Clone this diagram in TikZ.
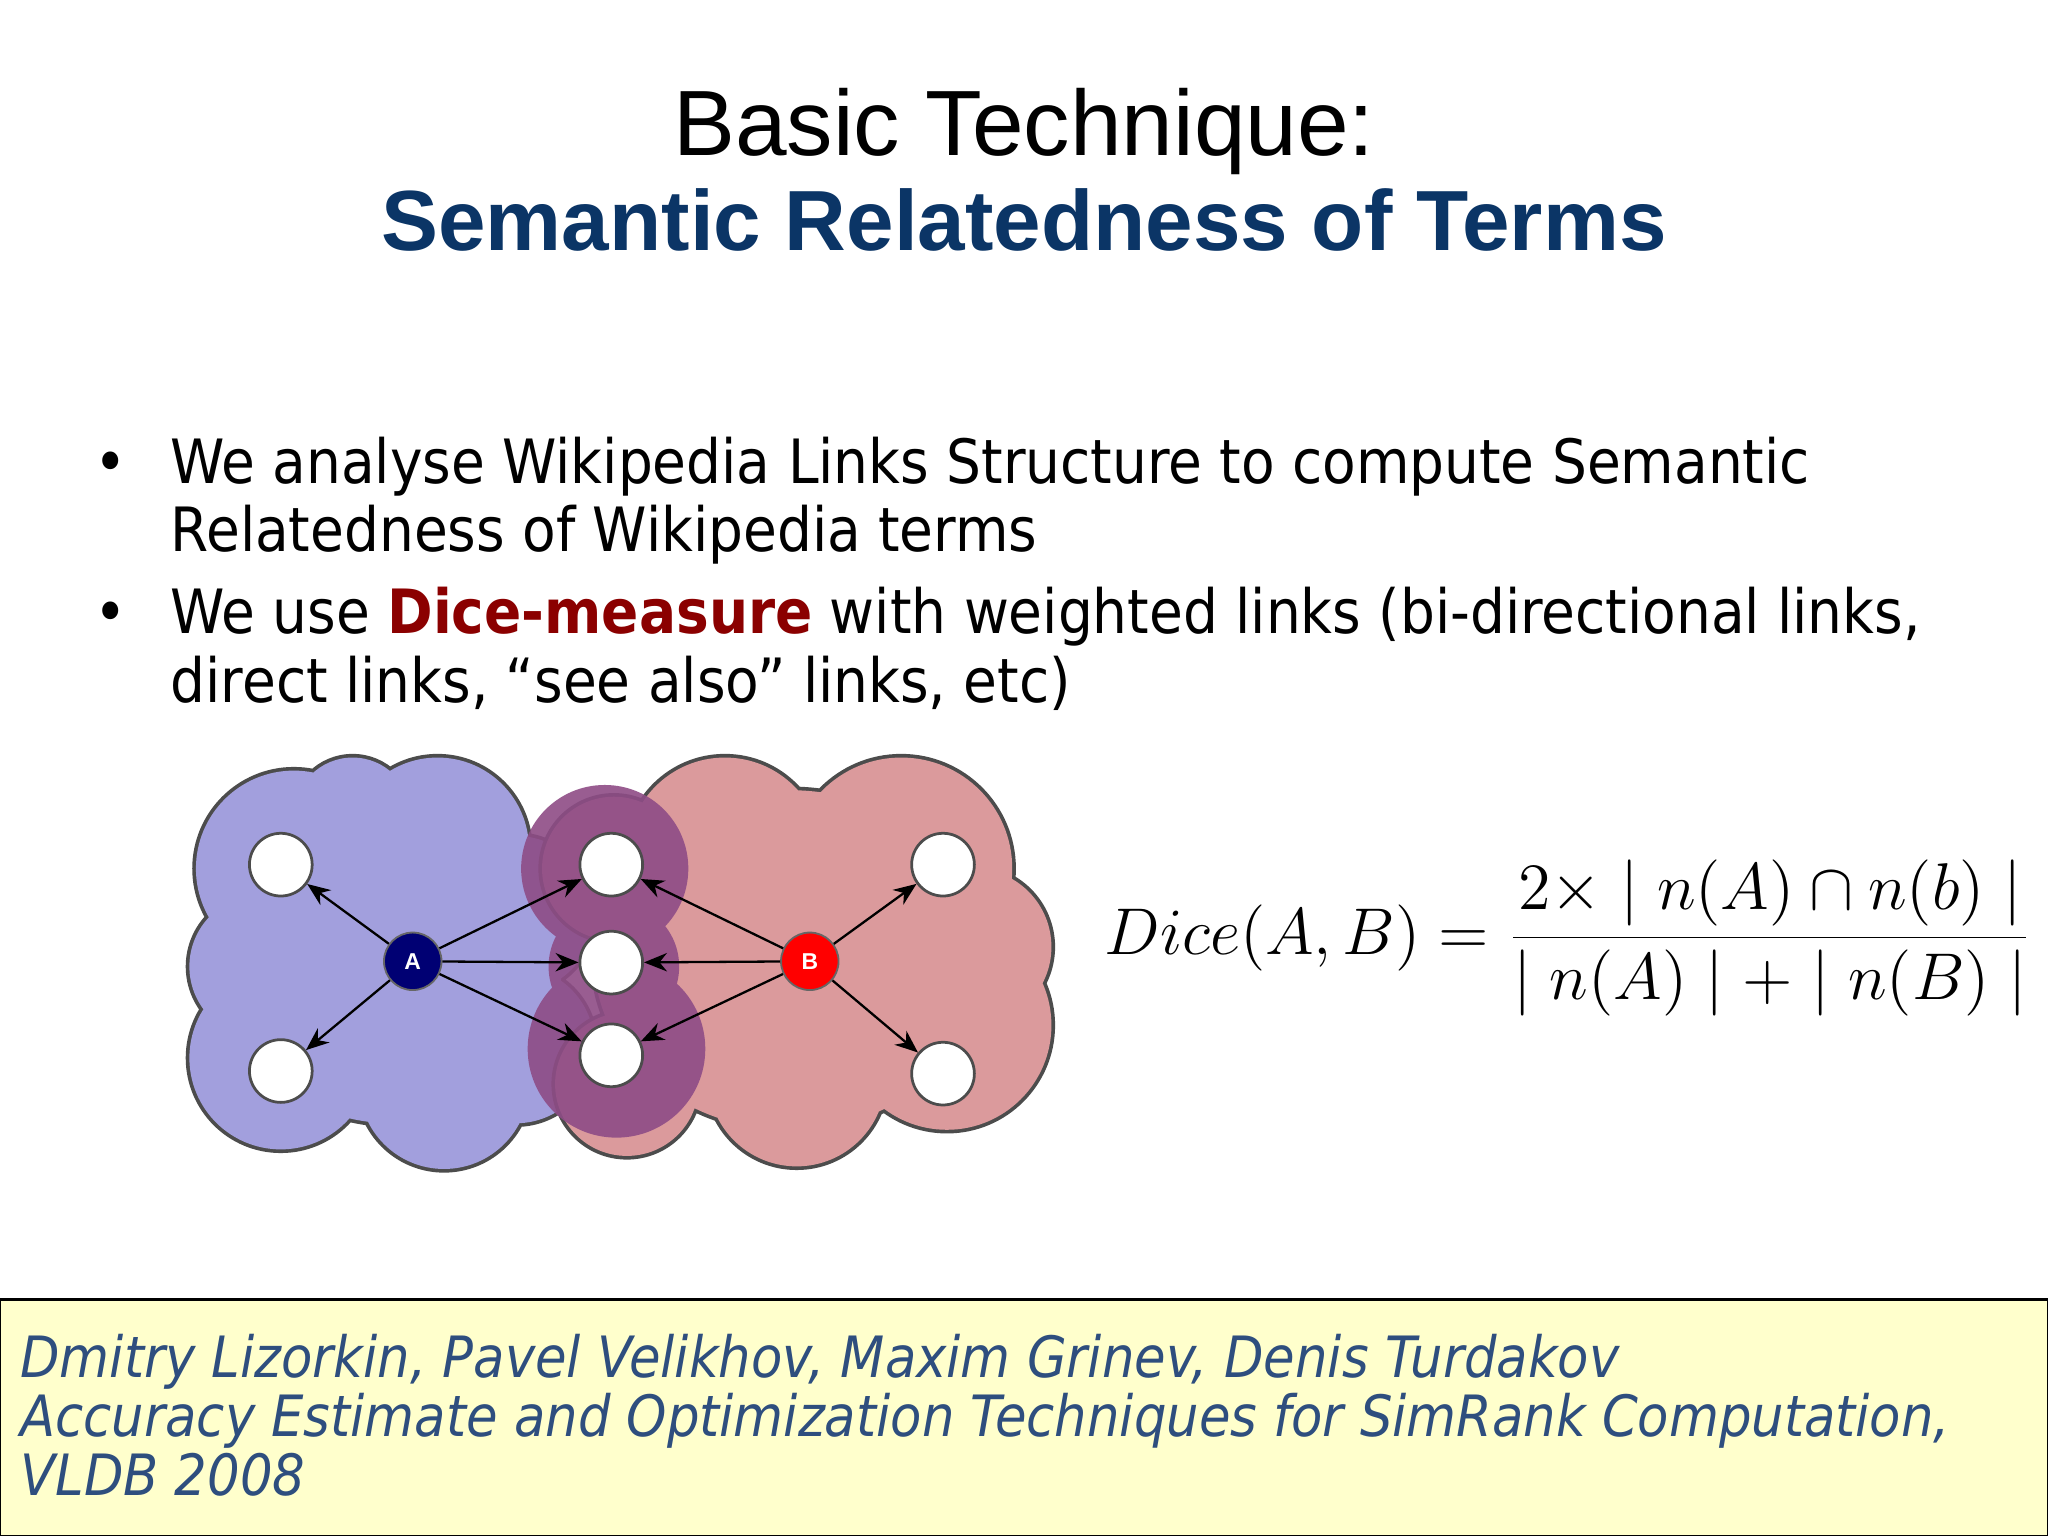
\documentclass[tikz,border=0pt]{standalone}
\usepackage{fontspec}
\setmainfont{DejaVu Sans Condensed}
\newfontfamily\arialf{Liberation Sans}
\usetikzlibrary{arrows.meta}
\definecolor{tblue}{HTML}{0B3566}
\definecolor{dred}{HTML}{8B0000}
\definecolor{cblue}{HTML}{A29FDD}
\definecolor{cred}{HTML}{DB9A9C}
\definecolor{cpur}{HTML}{8E4C86}
\definecolor{fyel}{HTML}{FFFFCC}
\definecolor{ftxt}{HTML}{2E4E7E}
\tikzset{
 wnode/.style={circle,draw=black!70,fill=white,minimum size=0.48cm,inner sep=0pt,line width=0.6pt},
 anode/.style={circle,draw=black!60,fill=#1,minimum size=0.44cm,inner sep=0pt,text=white,font=\arialf\bfseries\fontsize{5}{6}\selectfont},
 arr/.style={-{Stealth[length=5pt,width=4pt]},line width=0.5pt},
 btxt/.style={anchor=base west,inner sep=0pt,font=\fontsize{13.3}{16}\selectfont},
 ftx/.style={anchor=base west,inner sep=0pt,text=ftxt,font=\itshape\fontsize{12.4}{15}\selectfont}
}
\begin{document}
\begin{tikzpicture}[x=0.01cm,y=-0.01cm]
\useasboundingbox (0,0) rectangle (1568,1176);
\fill[white] (0,0) rectangle (1568,1176);
% title
\node[font=\arialf\fontsize{20.2}{24}\selectfont,anchor=base] (t1) at (784,119) {Basic Technique:};
\node[font=\arialf\bfseries\fontsize{18.6}{22}\selectfont,text=tblue,anchor=base] (t2) at (784,192) {Semantic Relatedness of Terms};
% bullets
\node[btxt] (d1) at (72,370) {•};
\node[btxt] (b1) at (130,370) {We analyse Wikipedia Links Structure to compute Semantic};
\node[btxt] (b1b) at (130,422) {Relatedness of Wikipedia terms};
\node[btxt] (d2) at (72,485) {•};
\node[btxt] (b2) at (130,485) {We use \textcolor{dred}{\textbf{Dice-measure}} with weighted links (bi-directional links,};
\node[btxt] (b2b) at (130,538) {direct links, “see also” links, etc)};
% blue cloud
\def\bluec{(300,740) circle[x radius=130,y radius=120] (225,665) circle[radius=75] (335,650) circle[radius=70] (215,810) circle[radius=70] (340,830) circle[radius=65] (200,740) circle[radius=55] (395,700) circle[radius=60] (395,800) circle[radius=60] (270,625) circle[radius=45]}
\draw[black!70,line width=1.6pt] \bluec;
\fill[cblue] \bluec;
% red cloud
\def\redc{(605,735) circle[x radius=150,y radius=130] (555,655) circle[radius=75] (690,665) circle[radius=85] (725,785) circle[radius=80] (610,825) circle[radius=68] (480,830) circle[radius=55] (470,665) circle[radius=55] (745,725) circle[radius=60]}
\draw[black!70,line width=1.6pt] \redc;
\fill[cred] \redc;
% overlap blob
\fill[cpur,opacity=0.9] (463,665) circle[radius=64] (470,740) circle[radius=50] (472,803) circle[radius=68];
% nodes
\node[wnode] (l1) at (215,662) {};
\node[wnode] (l2) at (215,820) {};
\node[wnode] (m1) at (468,662) {};
\node[wnode] (m2) at (468,737) {};
\node[wnode] (m3) at (468,808) {};
\node[wnode] (r1) at (722,662) {};
\node[wnode] (r2) at (722,822) {};
\node[anode=blue!45!black] (A) at (316,736) {A};
\node[anode=red] (B) at (620,736) {B};
\foreach \t in {l1,l2,m1,m2,m3} \draw[arr] (A) -- (\t);
\foreach \t in {r1,r2,m1,m2,m3} \draw[arr] (B) -- (\t);
% formula
\node[anchor=west,inner sep=0pt,font=\fontsize{13.3}{17}\selectfont] (f) at (845,718) {$\displaystyle Dice(A,B)=\frac{2\times\mid n(A)\cap n(b)\mid}{\mid n(A)\mid+\mid n(B)\mid}$};
% footer
\draw[black,fill=fyel,line width=0.6pt] (0,995) rectangle (1568,1176);
\node[ftx] (f1) at (15,1055) {Dmitry Lizorkin, Pavel Velikhov, Maxim Grinev, Denis Turdakov};
\node[ftx] (f2) at (15,1100) {Accuracy Estimate and Optimization Techniques for SimRank Computation,};
\node[ftx] (f3) at (15,1145) {VLDB 2008};
\end{tikzpicture}
\end{document}
